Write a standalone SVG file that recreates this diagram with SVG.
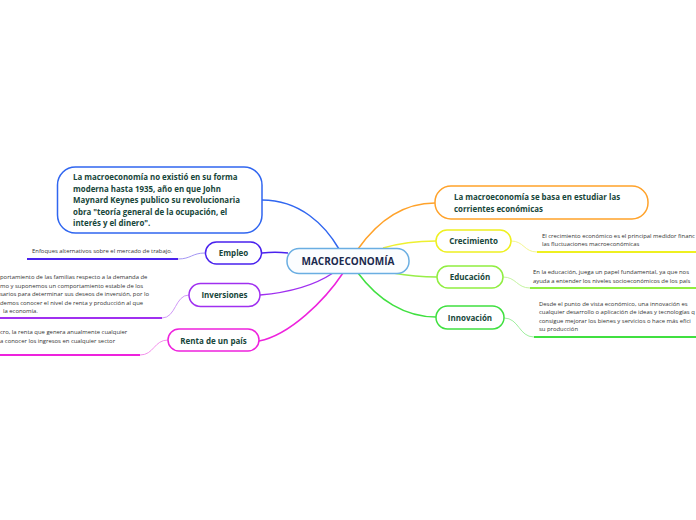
<svg xmlns="http://www.w3.org/2000/svg" width="696" height="520" viewBox="0 0 696 520">
<style>
.nt{font-family:"Open Sans","Liberation Sans",sans-serif;font-weight:bold;font-size:8px;fill:#17463a;text-anchor:middle}
.bt{font-family:"Open Sans","Liberation Sans",sans-serif;font-weight:bold;font-size:7.9px;fill:#17463a}
.lt{font-family:"Open Sans","Liberation Sans",sans-serif;font-size:5.9px;fill:#333}
.box{fill:#fff;stroke-width:1.5}
.c{fill:none;stroke-width:1.5}
.lc{fill:none;stroke-width:1}
.ul{fill:none;stroke-width:2}
</style>
<rect width="696" height="520" fill="#fff"/>
<g id="connectors">
<path class="c" stroke="#3066f0" d="M262,200 C300,200 325,225 339,249"/>
<path class="c" stroke="#4a22ee" d="M262,253 C272,252 278,252 288,253"/>
<path class="c" stroke="#a030f0" d="M260,295 C295,292 318,283 333,273"/>
<path class="c" stroke="#ee22dd" d="M259,341 C290,335 325,300 343,273"/>
<path class="c" stroke="#ffa22a" d="M358,249 C375,225 400,203 435,203"/>
<path class="c" stroke="#eef030" d="M383,248 C400,243 415,241 436,241"/>
<path class="c" stroke="#98ee48" d="M393,273 C410,276 420,277 437,277"/>
<path class="c" stroke="#40e040" d="M358,273 C378,300 405,317 436,317"/>
<path class="lc" stroke="#f4f690" d="M511,241 C524,241 524,252 537,252"/>
<path class="ul" stroke="#eef020" d="M537,252 H696"/>
<path class="lc" stroke="#c4f4a0" d="M503,277 C516,277 517,288 530,288"/>
<path class="ul" stroke="#90ee40" d="M530,288 H696"/>
<path class="lc" stroke="#a0f0a0" d="M504,318 C519,318 519,337 534,337"/>
<path class="ul" stroke="#40e040" d="M534,337 H696"/>
<path class="lc" stroke="#a496f4" d="M205,253 C192,253 191,259 178,259"/>
<path class="ul" stroke="#4a22ee" d="M178,259 H27"/>
<path class="lc" stroke="#d098f6" d="M189,295 C175,295 176,318 162,318"/>
<path class="ul" stroke="#a030f0" d="M162,318 H0"/>
<path class="lc" stroke="#f490ec" d="M168,340 C154,340 154,355 140,355"/>
<path class="ul" stroke="#ee22dd" d="M140,355 H0"/>
</g>
<g id="center">
<rect x="287" y="248.5" width="122" height="25" rx="12" fill="#fbfdff" stroke="#6aaee2" stroke-width="1.5"/>
<text x="348" y="265" style="font-family:'Open Sans','Liberation Sans',sans-serif;font-weight:bold;font-size:10px;fill:#1b2a4e;text-anchor:middle">MACROECONOMÍA</text>
</g>
<g id="historia">
<rect class="box" x="57.5" y="167" width="204.5" height="66" rx="18" stroke="#3066f0"/>
<text class="bt" x="73" y="180">La macroeconomía no existió en su forma</text>
<text class="bt" x="73" y="191.5">moderna hasta 1935, año en que John</text>
<text class="bt" x="73" y="203">Maynard Keynes publico su revolucionaria</text>
<text class="bt" x="73" y="214.5">obra "teoría general de la ocupación, el</text>
<text class="bt" x="73" y="226">interés y el dinero".</text>
</g>
<g id="empleo">
<rect class="box" x="205.5" y="242" width="56" height="22" rx="11" stroke="#4a22ee"/>
<text class="nt" x="233.5" y="256">Empleo</text>
<text class="lt" x="32" y="253">Enfoques alternativos sobre el mercado de trabajo.</text>
</g>
<g id="inversiones">
<rect class="box" x="189" y="283.5" width="71" height="23" rx="11.5" stroke="#a030f0"/>
<text class="nt" x="224.5" y="298">Inversiones</text>
<text class="lt" x="0" y="279">portamiento de las familias respecto a la demanda de</text>
<text class="lt" x="0" y="287.5">mo y suponemos un comportamiento estable de los</text>
<text class="lt" x="0" y="296">sarios para determinar sus deseos de inversión, por lo</text>
<text class="lt" x="0" y="304.5">demos conocer el nivel de renta y producción al que</text>
<text class="lt" x="3" y="313">la economía.</text>
</g>
<g id="renta">
<rect class="box" x="168" y="329" width="91" height="22" rx="11" stroke="#ee22dd"/>
<text class="nt" x="213.5" y="343.5">Renta de un país</text>
<text class="lt" x="0" y="334">cro, la renta que genera anualmente cualquier</text>
<text class="lt" x="0" y="342.5">a conocer los ingresos en cualquier sector</text>
</g>
<g id="basa">
<rect class="box" x="435" y="186" width="213" height="33" rx="16" stroke="#ffa22a"/>
<text class="bt" x="454" y="200">La macroeconomía se basa en estudiar las</text>
<text class="bt" x="454" y="211.5">corrientes económicas</text>
</g>
<g id="crecimiento">
<rect class="box" x="436" y="230" width="75" height="22" rx="11" stroke="#eef020"/>
<text class="nt" x="473.5" y="244">Crecimiento</text>
<text class="lt" x="542" y="237.5">El crecimiento económico es el principal medidor financ</text>
<text class="lt" x="542" y="246">las fluctuaciones macroeconómicas</text>
</g>
<g id="educacion">
<rect class="box" x="437" y="266" width="66" height="22" rx="11" stroke="#90ee40"/>
<text class="nt" x="470" y="280">Educación</text>
<text class="lt" x="533" y="274">En la educación, juega un papel fundamental, ya que nos</text>
<text class="lt" x="533" y="282.5">ayuda a entender los niveles socioeconómicos de los país</text>
</g>
<g id="innovacion">
<rect class="box" x="436" y="306" width="68" height="23" rx="11.5" stroke="#40e040"/>
<text class="nt" x="470" y="320.5">Innovación</text>
<text class="lt" x="539" y="305.5">Desde el punto de vista económico, una innovación es</text>
<text class="lt" x="539" y="314">cualquier desarrollo o aplicación de ideas y tecnologías q</text>
<text class="lt" x="539" y="322.5">consigue mejorar los bienes y servicios o hace más efici</text>
<text class="lt" x="539" y="331">su producción</text>
</g>
</svg>
